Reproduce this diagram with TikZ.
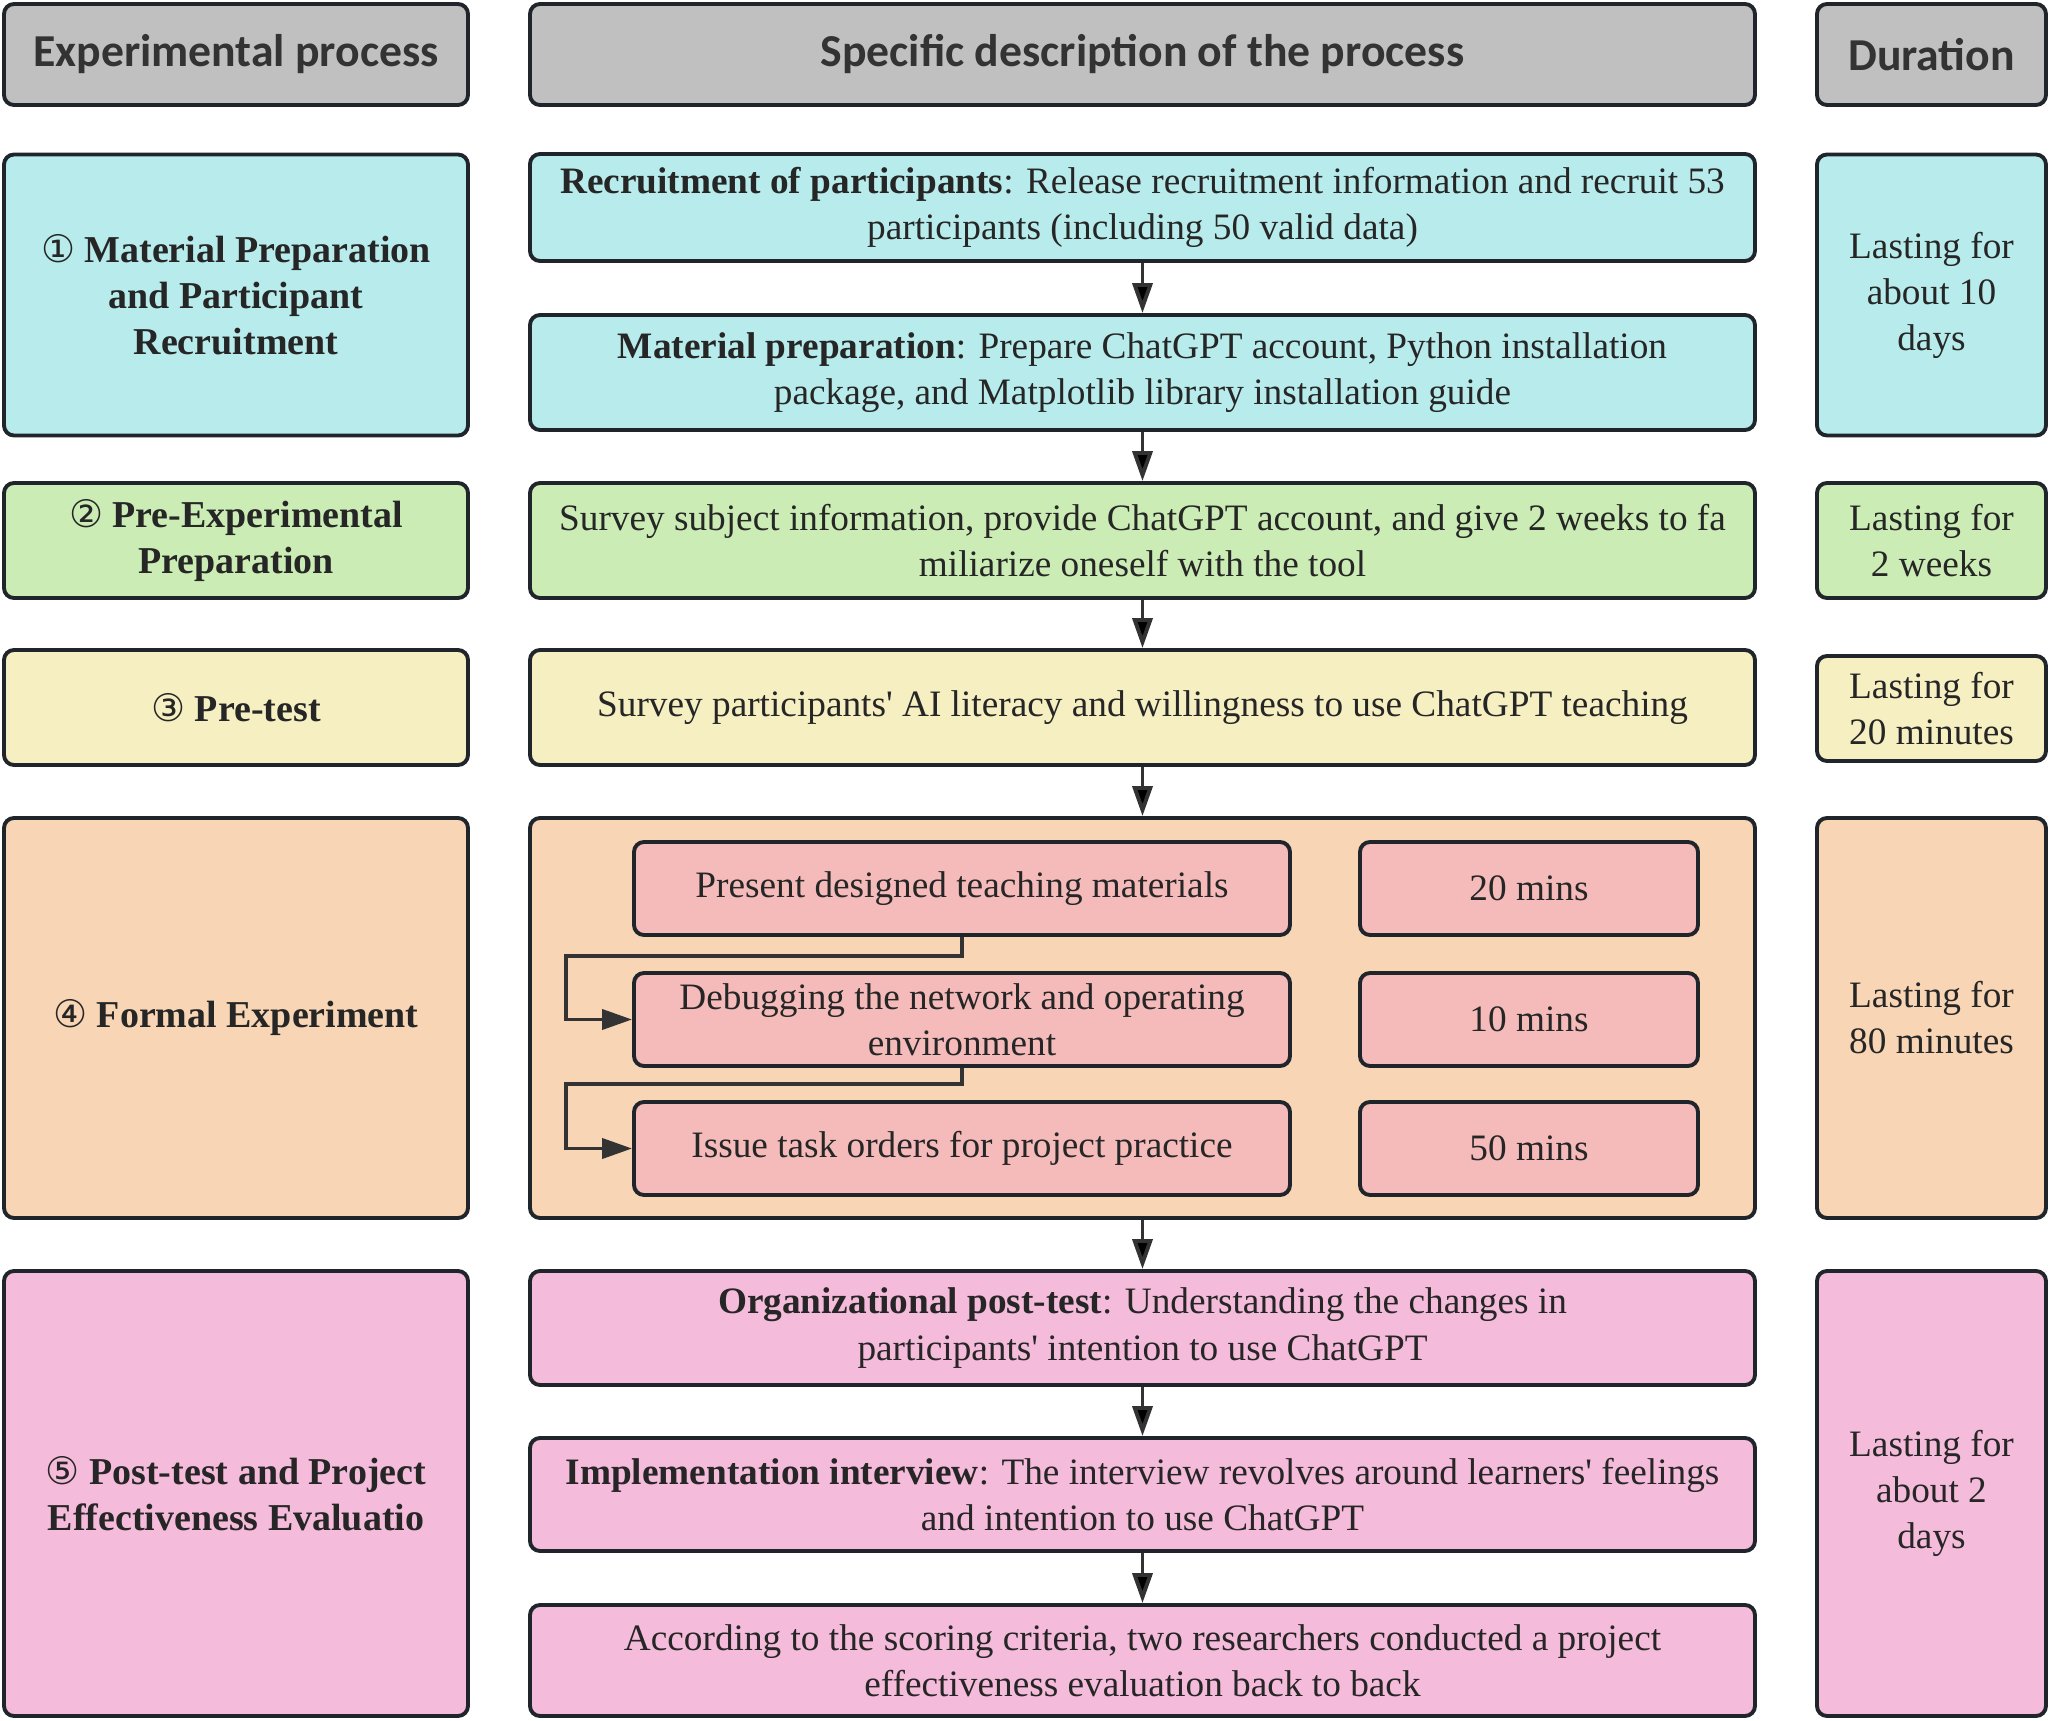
\documentclass[tikz,border=0pt]{standalone}
\usepackage{fontspec}
\setmainfont{Liberation Serif}
\newfontfamily\headfont{Carlito}
\newfontfamily\numfont{DejaVu Sans}
\usetikzlibrary{arrows.meta}

\definecolor{headc}{HTML}{C0C0C0}
\definecolor{cyanc}{HTML}{B8EBEB}
\definecolor{greenc}{HTML}{CBEDB5}
\definecolor{yellowc}{HTML}{F6EFC2}
\definecolor{orangec}{HTML}{F7D5B5}
\definecolor{redc}{HTML}{F4BBBA}
\definecolor{pinkc}{HTML}{F5BBDA}
\definecolor{edgec}{HTML}{1F252B}
\definecolor{arrc}{HTML}{333333}
\definecolor{txtc}{HTML}{262626}

\newcommand{\cnum}[1]{{\numfont\mdseries #1}}
\newcommand{\apos}{\textquotesingle}

\begin{document}
\begin{tikzpicture}[x=0.01cm,y=-0.01cm,>={Triangle[length=0.3cm,width=0.2cm]},
    box/.style={draw=edgec,line width=1.1pt,rounded corners=0.1cm,align=center,inner sep=0pt,text=txtc,font=\fontsize{10.6}{13.1}\selectfont},
    dims/.style 2 args={minimum width=#1*0.01cm,minimum height=#2*0.01cm},
    head/.style={box,fill=headc,text=arrc,font=\headfont\bfseries\fontsize{13}{15}\selectfont},
    stage/.style={box,font=\bfseries\fontsize{10.8}{13.1}\selectfont},
    link/.style={->,draw=arrc,line width=1.1pt}]
    \useasboundingbox (0,0) rectangle (2050,1721);

    \node[head,dims={464}{101}] (hd1) at (236,54.5) {Experimental process};
    \node[head,dims={1225}{101}] (hd2) at (1142.5,54.5) {Specific description of the process};
    \node[head,dims={229}{101}] (hd3) at (1931.5,54.5) {Duration};

    \node[stage,fill=cyanc,dims={464}{281}] (st1) at (236,295) {\cnum{①} Material Preparation\\and Participant\\Recruitment};
    \node[stage,fill=greenc,dims={464}{115}] (st2) at (236,540.5) {\cnum{②} Pre-Experimental\\Preparation};
    \node[stage,fill=yellowc,dims={464}{115}] (st3) at (236,707.5) {\cnum{③} Pre-test};
    \node[stage,fill=orangec,dims={464}{400}] (st4) at (236,1018) {\cnum{④} Formal Experiment};
    \node[stage,fill=pinkc,dims={464}{445}] (st5) at (236,1493.5) {\cnum{⑤} Post-test and Project\\Effectiveness Evaluatio};

    \node[box,fill=cyanc,dims={1225}{107}] (ds1a) at (1142.5,207.5) {\textbf{Recruitment of participants}: Release recruitment information and recruit 53\\participants (including 50 valid data)};
    \node[box,fill=cyanc,dims={1225}{115}] (ds1b) at (1142.5,372.5) {\textbf{Material preparation}: Prepare ChatGPT account, Python installation\\package, and Matplotlib library installation guide};
    \node[box,fill=greenc,dims={1225}{115}] (ds2) at (1142.5,540.5) {Survey subject information, provide ChatGPT account, and give 2 weeks to fa\\miliarize oneself with the tool};
    \node[box,fill=yellowc,dims={1225}{115}] (ds3) at (1142.5,707.5) {Survey participants\apos{} AI literacy and willingness to use ChatGPT teaching};
    \node[box,fill=orangec,dims={1225}{400}] (ds4) at (1142.5,1018) {};
    \node[box,fill=pinkc,dims={1225}{114}] (ds5a) at (1142.5,1328) {\textbf{Organizational post-test}: Understanding the changes in\\participants\apos{} intention to use ChatGPT};
    \node[box,fill=pinkc,dims={1225}{113}] (ds5b) at (1142.5,1494.5) {\textbf{Implementation interview}: The interview revolves around learners\apos{} feelings\\and intention to use ChatGPT};
    \node[box,fill=pinkc,dims={1225}{111}] (ds5c) at (1142.5,1660.5) {According to the scoring criteria, two researchers conducted a project\\effectiveness evaluation back to back};

    \node[box,fill=redc,dims={656}{93}] (ex1) at (962,888.5) {Present designed teaching materials};
    \node[box,fill=redc,dims={656}{93}] (ex2) at (962,1019.5) {Debugging the network and operating\\environment};
    \node[box,fill=redc,dims={656}{93}] (ex3) at (962,1148.5) {Issue task orders for project practice};
    \node[box,fill=redc,dims={338}{93}] (tm1) at (1529,888.5) {20 mins};
    \node[box,fill=redc,dims={338}{93}] (tm2) at (1529,1019.5) {10 mins};
    \node[box,fill=redc,dims={338}{93}] (tm3) at (1529,1148.5) {50 mins};

    \node[box,fill=cyanc,dims={229}{281}] (du1) at (1931.5,295) {Lasting for\\about 10\\days};
    \node[box,fill=greenc,dims={229}{115}] (du2) at (1931.5,540.5) {Lasting for\\2 weeks};
    \node[box,fill=yellowc,dims={229}{105}] (du3) at (1931.5,708.5) {Lasting for\\20 minutes};
    \node[box,fill=orangec,dims={229}{400}] (du4) at (1931.5,1018) {Lasting for\\80 minutes};
    \node[box,fill=pinkc,dims={229}{445}] (du5) at (1931.5,1493.5) {Lasting for\\about 2\\days};

    \coordinate (bend1) at (566,956);
    \coordinate (bend2) at (566,1084);

    \path[link]
        (ds1a) edge (ds1b)
        (ds1b) edge (ds2)
        (ds2) edge (ds3)
        (ds3) edge (ds4)
        (ds4) edge (ds5a)
        (ds5a) edge (ds5b)
        (ds5b) edge (ds5c);
    \draw[link] (ex1.south) |- (bend1) |- (ex2.west);
    \draw[link] (ex2.south) |- (bend2) |- (ex3.west);
\end{tikzpicture}
\end{document}
